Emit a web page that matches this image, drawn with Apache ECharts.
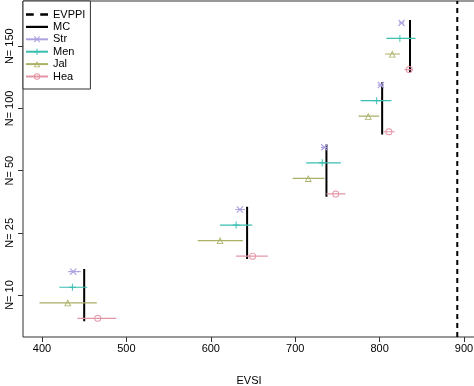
<!DOCTYPE html>
<html><head><meta charset="utf-8">
<script src="https://cdn.jsdelivr.net/npm/echarts@6/dist/echarts.min.js"></script>
<style>html,body{margin:0;padding:0;background:#fff;overflow:hidden}#c{width:474px;height:386px}</style>
</head><body><div id="c"></div>
<script>
// ---- data ----
const categories = ['N= 10', 'N= 25', 'N= 50', 'N= 100', 'N= 150'];
const xTicks = [400, 500, 600, 700, 800, 900];
const evppi = 892;
const mc = [450, 643, 737, 803, 836];
const strEst = [437, 634.5, 734.5, 801.5, 826];
const strLo  = [431, 629, 730.5, 798, 823];
const strHi  = [446, 640.5, 738.5, 805, 829];
const menEst = [436, 630, 732, 796.5, 824];
const menLo  = [420.5, 611, 713, 777.5, 808];
const menHi  = [453.5, 649, 754, 814, 842.5];
const jalEst = [430.5, 611, 715.5, 786.5, 815];
const jalLo  = [397, 584.5, 697, 775, 806.5];
const jalHi  = [465, 638, 734.5, 799.5, 824];
const heaEst = [466, 649.5, 748, 811, 835];
const heaLo  = [442, 630, 737, 804.5, 829.5];
const heaHi  = [488, 667.5, 759.5, 818, 839.5];

// ---- styling / layout ----
const FONT = '"Liberation Sans", Arial, Helvetica, sans-serif';
const Y_MIN = -0.675, Y_MAX = 4.727;
const SYM = {
  x: 'path://M0,1.2L1.2,0L5,3.8L8.8,0L10,1.2L6.2,5L10,8.8L8.8,10L5,6.2L1.2,10L0,8.8L3.8,5Z',
  plus: 'path://M4.3,0H5.7V4.3H10V5.7H5.7V10H4.3V5.7H0V4.3H4.3Z',
  tri: 'path://M5,0L10,9L0,9ZM5,2.5L1.9,8L8.1,8Z',
  circ: 'path://M0,5A5,5,0,1,0,10,5A5,5,0,1,0,0,5ZM1.4,5A3.6,3.6,0,1,1,8.6,5A3.6,3.6,0,1,1,1.4,5Z'
};

function barData(lo, est, hi, off) {
  const d = [];
  for (let i = 0; i < lo.length; i++) {
    const y = i + off;
    d.push({ value: [lo[i], y], symbol: 'none' });
    d.push([est[i], y]);
    d.push({ value: [hi[i], y], symbol: 'none' });
    d.push(null);
  }
  return d;
}
function estSeries(name, color, sym, lo, est, hi, off) {
  return {
    name, type: 'line', data: barData(lo, est, hi, off),
    symbol: sym, symbolSize: 7, showSymbol: true, connectNulls: false,
    color, lineStyle: { color, width: 1.2 }, itemStyle: { color },
    z: 4, animation: false
  };
}
const mcData = [];
mc.forEach((v, i) => { mcData.push([v, i - 0.42]); mcData.push([v, i + 0.42]); mcData.push(null); });

const chart = echarts.init(document.getElementById('c'), null, { renderer: 'canvas' });
chart.setOption({
  animation: false,
  backgroundColor: '#fff',
  textStyle: { fontFamily: FONT },
  grid: { left: 23, top: 1, width: 452, height: 336, show: true, borderColor: '#333', borderWidth: 1,
    backgroundColor: 'transparent', containLabel: false, outerBoundsMode: 'none' },
  xAxis: {
    type: 'value', min: 377.5, max: 913,
    axisLine: { show: false, onZero: false }, splitLine: { show: false },
    axisTick: { show: true, length: 5, customValues: xTicks, lineStyle: { color: '#333' } },
    axisLabel: { customValues: xTicks, fontSize: 11, color: '#000', margin: 6, fontFamily: FONT },
    name: 'EVSI', nameLocation: 'middle', nameGap: 38,
    nameTextStyle: { fontSize: 11, color: '#000', fontFamily: FONT }
  },
  yAxis: {
    type: 'value', min: Y_MIN, max: Y_MAX,
    axisLine: { show: false, onZero: false }, splitLine: { show: false },
    axisTick: { show: true, length: 5, customValues: [0, 1, 2, 3, 4], lineStyle: { color: '#333' } },
    axisLabel: { customValues: [0, 1, 2, 3, 4], rotate: 90, fontSize: 11, color: '#000', margin: 8, fontFamily: FONT,
      formatter: v => categories[Math.round(v)] }
  },
  legend: {
    orient: 'vertical', left: 23, top: 1,
    data: [
      { name: 'EVPPI', icon: 'path://M0,0H6V2H0ZM11,0H17V2H11Z' },
      { name: 'MC', icon: 'path://M0,0H20V2H0Z' },
      'Str', 'Men', 'Jal', 'Hea'
    ],
    itemWidth: 22, itemHeight: 8, itemGap: 1.4,
    padding: [8, 5, 7, 2],
    borderColor: '#333', borderWidth: 1, borderRadius: 0, backgroundColor: '#fff',
    textStyle: { fontSize: 11, color: '#000', fontFamily: FONT },
    selectedMode: false
  },
  series: [
    { name: 'EVPPI', type: 'line', data: [[evppi, Y_MIN], [evppi, Y_MAX]], symbol: 'none', color: '#000',
      lineStyle: { color: '#000', width: 2, type: [5, 4] }, itemStyle: { color: '#000' }, z: 2 },
    { name: 'MC', type: 'line', data: mcData, symbol: 'none', connectNulls: false, color: '#000',
      lineStyle: { color: '#000', width: 2 }, itemStyle: { color: '#000' }, z: 3 },
    estSeries('Str', '#ACA4E2', SYM.x, strLo, strEst, strHi, 0.375),
    estSeries('Men', '#39BEB1', SYM.plus, menLo, menEst, menHi, 0.125),
    estSeries('Jal', '#ABB065', SYM.tri, jalLo, jalEst, jalHi, -0.125),
    estSeries('Hea', '#E495A5', SYM.circ, heaLo, heaEst, heaHi, -0.375)
  ]
});
</script></body></html>
